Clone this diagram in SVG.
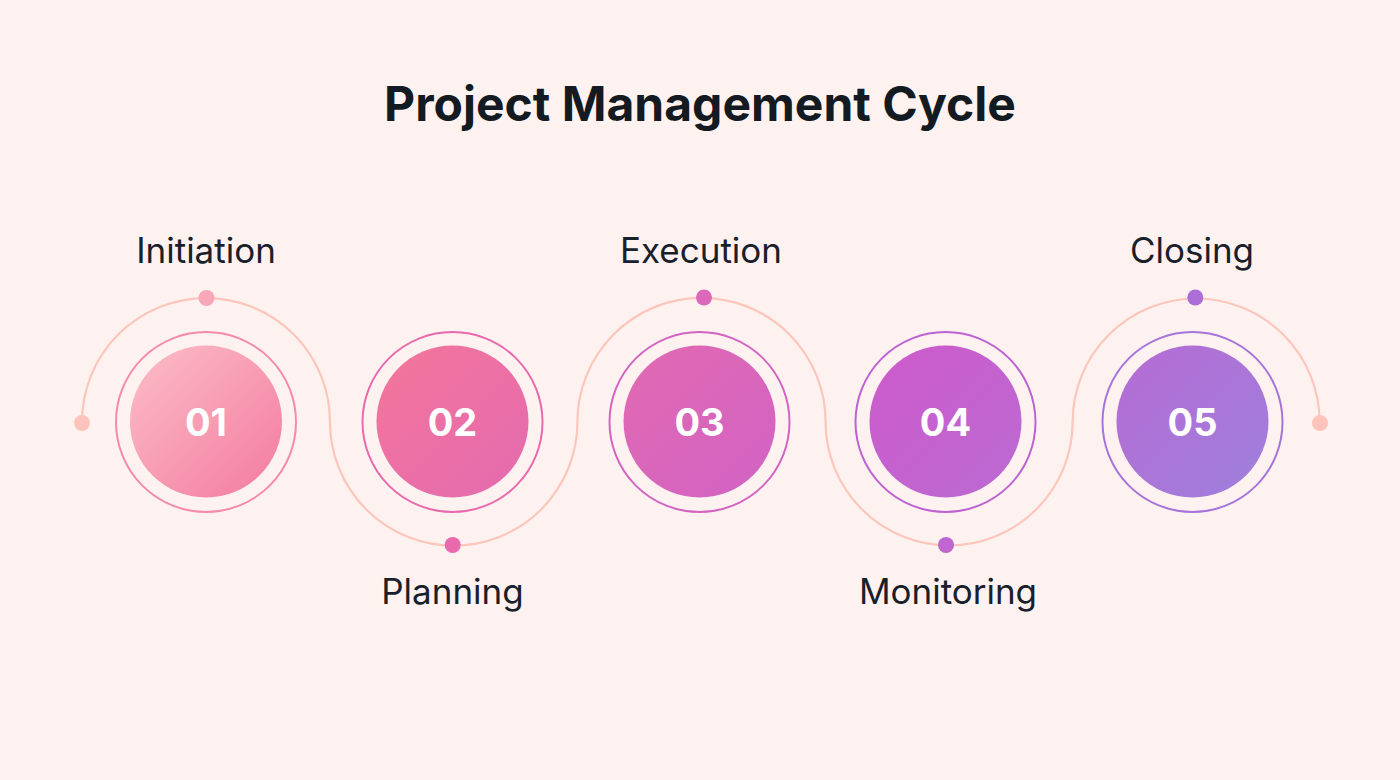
<svg xmlns="http://www.w3.org/2000/svg" width="1400" height="780" viewBox="0 0 1400 780">
  <style>
    .title { font-family: Inter, "Noto Sans", "Liberation Sans", sans-serif; font-weight: 700; font-size: 48px; fill: #141A21; text-anchor: middle; }
    .label { font-family: Inter, "Noto Sans", "Liberation Sans", sans-serif; font-weight: 400; font-size: 35px; fill: #18202A; text-anchor: middle; }
    .num { font-family: Inter, "Noto Sans", "Liberation Sans", sans-serif; font-weight: 700; font-size: 38px; fill: #FFFFFF; text-anchor: middle; }
    .ring { fill: none; stroke-width: 2; }
    .wave { fill: none; stroke: #FDC6BB; stroke-width: 2.2; }
  </style>
  <defs>
    <linearGradient id="g1" x1="0" y1="0" x2="1" y2="1"><stop offset="0" stop-color="#FCBEC8"/><stop offset="1" stop-color="#F37A9F"/></linearGradient>
    <linearGradient id="g2" x1="0" y1="0" x2="1" y2="1"><stop offset="0" stop-color="#F4769A"/><stop offset="1" stop-color="#E36AB0"/></linearGradient>
    <linearGradient id="g3" x1="0" y1="0" x2="1" y2="1"><stop offset="0" stop-color="#E26AB1"/><stop offset="1" stop-color="#D162C5"/></linearGradient>
    <linearGradient id="g4" x1="0" y1="0" x2="1" y2="1"><stop offset="0" stop-color="#CE5ACB"/><stop offset="1" stop-color="#BA6AD3"/></linearGradient>
    <linearGradient id="g5" x1="0" y1="0" x2="1" y2="1"><stop offset="0" stop-color="#B66BD4"/><stop offset="1" stop-color="#9E80DC"/></linearGradient>
  </defs>
  <rect width="1400" height="780" fill="#FEF2F1"/>
  <text class="title" x="700" y="121">Project Management Cycle</text>

  <g id="connectors">
    <path class="wave" d="M82,422 A124,124 0 0 1 330,422 A123.7,123.7 0 0 0 577.4,422 A124,124 0 0 1 825.6,422 A123.5,123.5 0 0 0 1072.6,422 A123.5,123.5 0 0 1 1319.6,422"/>
    <circle cx="82" cy="423" r="8" fill="#FEC4BC"/>
    <circle cx="1320" cy="423" r="8" fill="#FEC4BC"/>
  </g>

  <g id="step1">
    <circle cx="206.5" cy="298" r="8" fill="#F8A8B8"/>
    <circle class="ring" cx="206" cy="422" r="90" stroke="#F58AAA"/>
    <circle cx="206" cy="421.5" r="76" fill="url(#g1)"/>
    <text class="num" x="206" y="436">01</text>
    <text class="label" x="206" y="263">Initiation</text>
  </g>
  <g id="step2">
    <circle cx="452.7" cy="545" r="8" fill="#E86AAD"/>
    <circle class="ring" cx="452.5" cy="422" r="90" stroke="#E96AAC"/>
    <circle cx="452.5" cy="421.5" r="76" fill="url(#g2)"/>
    <text class="num" x="452.5" y="436">02</text>
    <text class="label" x="452.5" y="604">Planning</text>
  </g>
  <g id="step3">
    <circle cx="704" cy="297.5" r="8" fill="#DC68B9"/>
    <circle class="ring" cx="699.5" cy="422" r="90" stroke="#D464C3"/>
    <circle cx="699.5" cy="421.5" r="76" fill="url(#g3)"/>
    <text class="num" x="699.5" y="436">03</text>
    <text class="label" x="701" y="263">Execution</text>
  </g>
  <g id="step4">
    <circle cx="946" cy="545" r="8" fill="#BF66D0"/>
    <circle class="ring" cx="945.5" cy="422" r="90" stroke="#BE62D2"/>
    <circle cx="945.5" cy="421.5" r="76" fill="url(#g4)"/>
    <text class="num" x="945.5" y="436">04</text>
    <text class="label" x="948" y="604">Monitoring</text>
  </g>
  <g id="step5">
    <circle cx="1195.3" cy="297.5" r="8" fill="#AA6ED6"/>
    <circle class="ring" cx="1192.5" cy="422" r="90" stroke="#A574DA"/>
    <circle cx="1192.5" cy="421.5" r="76" fill="url(#g5)"/>
    <text class="num" x="1192.5" y="436">05</text>
    <text class="label" x="1192" y="263">Closing</text>
  </g>
</svg>
